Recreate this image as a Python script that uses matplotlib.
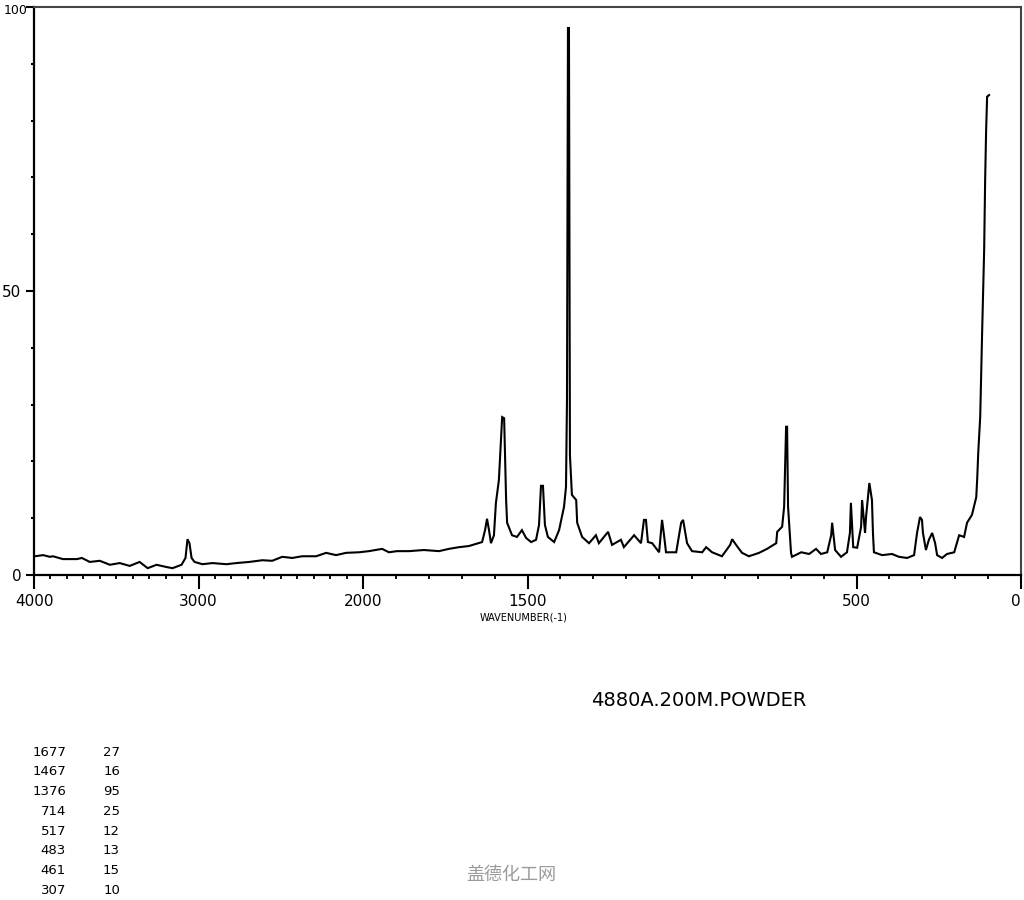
import numpy as np
import matplotlib
matplotlib.use("Agg")
import matplotlib.pyplot as plt
from matplotlib.ticker import FixedLocator, FixedFormatter

# ---- data ----
wavenumber = [3994, 3945, 3903, 3885, 3824, 3739, 3709, 3661, 3600, 3539, 3479, 3418,
              3358, 3309, 3255, 3194, 3158, 3103, 3079, 3067, 3055, 3042, 3024, 2976,
              2915, 2830, 2770, 2691, 2612, 2552, 2491, 2430, 2370, 2285, 2224, 2164,
              2103, 2024, 1982, 1942, 1921, 1897, 1860, 1815, 1769, 1739, 1708,
              1678, 1638, 1629, 1623, 1617, 1611, 1602, 1596, 1587, 1580, 1577, 1571,
              1565, 1562, 1547, 1532, 1517, 1504, 1489, 1474, 1465, 1459, 1453, 1447,
              1438, 1419, 1404, 1389, 1383, 1380, 1377, 1374, 1371, 1365, 1352, 1349,
              1334, 1313, 1292, 1283, 1255, 1243, 1216, 1207, 1176, 1155, 1146, 1140,
              1134, 1121, 1100, 1091, 1085, 1079, 1048, 1033, 1027, 1015, 1000, 969,
              957, 939, 909, 884, 878, 866, 848, 827, 796, 772, 744, 741, 726, 720,
              717, 714, 711, 708, 699, 696, 668, 644, 623, 608, 589, 577, 574, 565,
              547, 529, 520, 517, 510, 498, 486, 483, 474, 471, 465, 461, 453, 450,
              447, 422, 392, 371, 346, 325, 316, 307, 301, 298, 289, 280, 270, 261,
              255, 240, 225, 203, 188, 173, 164, 149, 136, 133, 130, 124, 118, 112,
              109, 106, 103, 97]
intensity = [3.3, 3.5, 3.2, 3.3, 2.8, 2.8, 3.0, 2.3, 2.5, 1.8, 2.1, 1.6,
             2.3, 1.2, 1.8, 1.4, 1.2, 1.8, 3.0, 6.3, 5.6, 3.0, 2.3, 1.9,
             2.1, 1.9, 2.1, 2.3, 2.6, 2.5, 3.2, 3.0, 3.3, 3.3, 3.9, 3.5,
             3.9, 4.0, 4.2, 4.6, 4.0, 4.2, 4.2, 4.4, 4.2, 4.6, 4.9,
             5.1, 5.8, 7.9, 9.9, 7.9, 5.6, 7.0, 12.7, 16.7, 24.3, 27.8, 27.6,
             13.2, 9.2, 7.0, 6.7, 7.9, 6.5, 5.8, 6.2, 8.8, 15.7, 15.7, 8.8,
             6.7, 5.8, 7.9, 12.0, 15.5, 30.8, 96.3, 96.3, 21.1, 14.1, 13.2, 9.2,
             6.7, 5.6, 7.0, 5.6, 7.6, 5.3, 6.2, 4.9, 7.0, 5.6, 9.7, 9.7,
             5.8, 5.6, 4.0, 9.7, 7.0, 4.0, 4.0, 9.2, 9.7, 5.6, 4.2, 4.0,
             4.9, 4.0, 3.3, 5.3, 6.3, 5.3, 3.9, 3.3, 3.9, 4.6, 5.6, 7.6, 8.5, 12.0,
             19.0, 26.1, 26.1, 12.0, 3.9, 3.2, 4.0, 3.7, 4.6, 3.7, 4.0, 7.0, 9.2, 4.4,
             3.2, 4.0, 7.4, 12.7, 4.9, 4.8, 8.5, 13.2, 7.4, 10.2, 13.7, 16.2, 13.2, 7.4,
             4.0, 3.5, 3.7, 3.2, 3.0, 3.5, 7.4, 10.2, 9.7, 7.4, 4.4, 6.2, 7.4, 5.6,
             3.5, 3.0, 3.7, 4.0, 7.0, 6.7, 9.2, 10.6, 13.7, 17.1, 21.5, 27.8, 43.1, 57.2,
             69.5, 78.3, 84.2, 84.5]

x_major = [4000, 3000, 2000, 1500, 500, 0]
x_major_labels = ["4000", "3000", "2000", "1500", "500", "0"]
y_major = [0, 50, 100]
y_major_labels = ["0", "50", ""]
y_top_label = "100"

peak_wn = ["1677", "1467", "1376", "714", "517", "483", "461", "307"]
peak_int = ["27", "16", "95", "25", "12", "13", "15", "10"]

title_text = "4880A.200M.POWDER"
xlabel_text = "WAVENUMBER(-1)"
watermark = "盖德化工网"

# ---- figure ----
W, H = 1024, 900
fig = plt.figure(figsize=(W / 100, H / 100), dpi=100)
ax = fig.add_axes([34 / W, 1 - 575 / H, (1021 - 34) / W, (575 - 7) / H])


def fwd(w):
    w = np.asarray(w, dtype=float)
    return np.where(w > 2000, 2000 + (w - 2000) / 2.0, w)


def inv(u):
    u = np.asarray(u, dtype=float)
    return np.where(u > 2000, 2000 + (u - 2000) * 2.0, u)


ax.set_xscale("function", functions=(fwd, inv))
ax.plot(wavenumber, intensity, color="black", lw=1.5, solid_joinstyle="miter")
ax.set_xlim(4000, 0)
ax.set_ylim(0, 100)

ax.xaxis.set_major_locator(FixedLocator(x_major))
ax.xaxis.set_major_formatter(FixedFormatter(x_major_labels))
ax.xaxis.set_minor_locator(FixedLocator([v for v in range(0, 4001, 100) if v not in x_major]))
ax.yaxis.set_major_locator(FixedLocator(y_major))
ax.yaxis.set_major_formatter(FixedFormatter(y_major_labels))
ax.yaxis.set_minor_locator(FixedLocator([v for v in range(0, 101, 10) if v not in y_major]))

ax.tick_params(axis="x", which="major", direction="out", length=10, width=1.5, pad=4,
               labelsize=11, color="black")
ax.tick_params(axis="x", which="minor", direction="out", length=3, width=1.3, color="black")
ax.tick_params(axis="y", which="major", direction="out", length=6, width=1.5, pad=3,
               labelsize=11, color="black")
ax.tick_params(axis="y", which="minor", direction="out", length=2, width=1.5, color="black")

# keep edge labels inside the canvas
xt = ax.get_xticklabels()
xt[-1].set_horizontalalignment("right")

# top y label, placed so it stays inside the canvas
fig.text(4 / W, 1 - 10 / H, y_top_label, ha="left", va="center", fontsize=9)

for s in ["left", "bottom"]:
    ax.spines[s].set_linewidth(1.6)
    ax.spines[s].set_color("black")
for s in ["top", "right"]:
    ax.spines[s].set_linewidth(1.5)
    ax.spines[s].set_color("#444444")

fig.text(524 / W, 1 - 618 / H, xlabel_text, ha="center", va="center", fontsize=7)
fig.text(699 / W, 1 - 701 / H, title_text, ha="center", va="center", fontsize=14)

for i, (wn, it) in enumerate(zip(peak_wn, peak_int)):
    y = 1 - (752 + i * 19.8) / H
    fig.text(66 / W, y, wn, ha="right", va="center", fontsize=9.5)
    fig.text(120 / W, y, it, ha="right", va="center", fontsize=9.5)

fig.text(511 / W, 1 - 875 / H, watermark, ha="center", va="center", fontsize=13,
         color="#9a9a9a", family=["Noto Sans CJK SC", "DejaVu Sans"])

fig.savefig("out.png", dpi=100)
